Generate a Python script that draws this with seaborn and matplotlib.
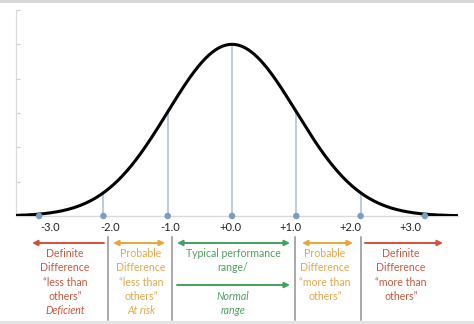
import numpy as np
import pandas as pd
import matplotlib
matplotlib.use("Agg")
import matplotlib.pyplot as plt
import seaborn as sns
from matplotlib.patches import Rectangle

# ---- data ----
mean_sd = [0.0, 1.0]                      # standard normal curve
peak_height = 5.0                         # peak height in axis units (y ticks 0..6)
sd_values = [-3, -2, -1, 0, 1, 2, 3]      # marked standard deviations
sd_labels = ["-3.0", "-2.0", "-1.0", "+0.0", "+1.0", "+2.0", "+3.0"]
guide_values = [-2, -1, 0, 1, 2]          # vertical guide lines
x_range = [-3.36, 3.515]

band_titles = [
    ["Definite", "Difference", "\u201cless than", "others\u201d"],
    ["Probable", "Difference", "\u201cless than", "others\u201d"],
    ["Typical performance", "range/"],
    ["Probable", "Difference", "\u201cmore than", "others\u201d"],
    ["Definite", "Difference", "\u201cmore than", "others\u201d"],
]
band_italic = ["Deficient", "At risk", None, None, None]

RED, ORANGE, GREEN = "#d4503e", "#eaa63c", "#43a35c"
RED_T, ORANGE_T, GREEN_T = "#c9573f", "#e3a84a", "#4f9f63"

sns.set_theme(style="white")
plt.rcParams["font.family"] = ["Lato", "DejaVu Sans"]

fig = plt.figure(figsize=(4.74, 3.24), dpi=100)
ax = fig.add_axes([16 / 474, 1 - 216 / 324, (458 - 16) / 474, (216 - 10) / 324])

xs = np.linspace(x_range[0], x_range[1], 400)
def curve(x):
    return peak_height * np.exp(-0.5 * ((np.asarray(x) - mean_sd[0]) / mean_sd[1]) ** 2)

df = pd.DataFrame({"x": xs, "y": curve(xs)})

# guide lines
ax.vlines(guide_values, 0, curve(guide_values), color="#a9bdd5", lw=1.1, zorder=1)
# curve
sns.lineplot(data=df, x="x", y="y", ax=ax, color="black", lw=2.2, zorder=3)
# markers
sns.scatterplot(x=sd_values, y=[0] * len(sd_values), ax=ax, color="#7b9dc2",
                s=22, edgecolor="none", zorder=4, clip_on=False)

ax.set_xlim(x_range)
ax.set_ylim(0, 6)
ax.set_yticks(range(0, 7))
ax.set_yticklabels([])
label_pos = [v * 0.933 - 0.03 for v in sd_values]
ax.set_xticks(label_pos)
ax.set_xticklabels(sd_labels, fontsize=8, color="#222222")
ax.tick_params(axis="x", length=0, pad=4)
ax.tick_params(axis="y", direction="in", length=3, color="#d0d0d0", width=0.8, left=True)
ax.set_xlabel("")
ax.set_ylabel("")
for s in ["top", "right"]:
    ax.spines[s].set_visible(False)
ax.spines["left"].set_color("#d9d9d9")
ax.spines["bottom"].set_color("#d9d9d9")
ax.spines["left"].set_linewidth(0.8)
ax.spines["bottom"].set_linewidth(1.0)

# ---- lower annotation panel (pixel coordinates) ----
ov = fig.add_axes([0, 0, 1, 1], zorder=5)
ov.set_xlim(0, 474)
ov.set_ylim(324, 0)
ov.axis("off")
ov.patch.set_alpha(0)

# frame strips
ov.add_patch(Rectangle((0, 0), 474, 3, color="#d8d8d8", lw=0))
ov.add_patch(Rectangle((0, 321), 474, 3, color="#e4e4e4", lw=0))

for xsep in [108, 172, 295, 361]:
    ov.plot([xsep, xsep], [237, 320], color="#a8a8a8", lw=1.4)

def arrow(x0, x1, y, color, style):
    ov.annotate("", xy=(x1, y), xytext=(x0, y),
                arrowprops=dict(arrowstyle=style, color=color, lw=1.4,
                                shrinkA=0, shrinkB=0, mutation_scale=8))

arrow(104, 32, 243, RED, "-|>")
arrow(113, 165, 243, ORANGE, "<|-|>")
arrow(177, 290, 243, GREEN, "<|-|>")
arrow(177, 290, 285, GREEN, "-|>")
arrow(302, 353, 243, ORANGE, "<|-|>")
arrow(365, 443, 243, RED, "-|>")

centers = [65, 141, 233, 325, 401]
colors = [RED_T, ORANGE_T, GREEN_T, ORANGE_T, RED_T]
ys = [253.5, 267.8, 282.1, 296.4, 310.7]
for cx, lines, it, col in zip(centers, band_titles, band_italic, colors):
    for i, t in enumerate(lines):
        ov.text(cx, ys[i], t, ha="center", va="center", fontsize=7.6, color=col)
    if it:
        ov.text(cx, ys[len(lines)], it, ha="center", va="center", fontsize=7.6,
                color=col, style="italic")
ov.text(233, 297, "Normal", ha="center", va="center", fontsize=7.6, color=GREEN_T, style="italic")
ov.text(233, 310.7, "range", ha="center", va="center", fontsize=7.6, color=GREEN_T, style="italic")

fig.savefig("out.png", dpi=100)
